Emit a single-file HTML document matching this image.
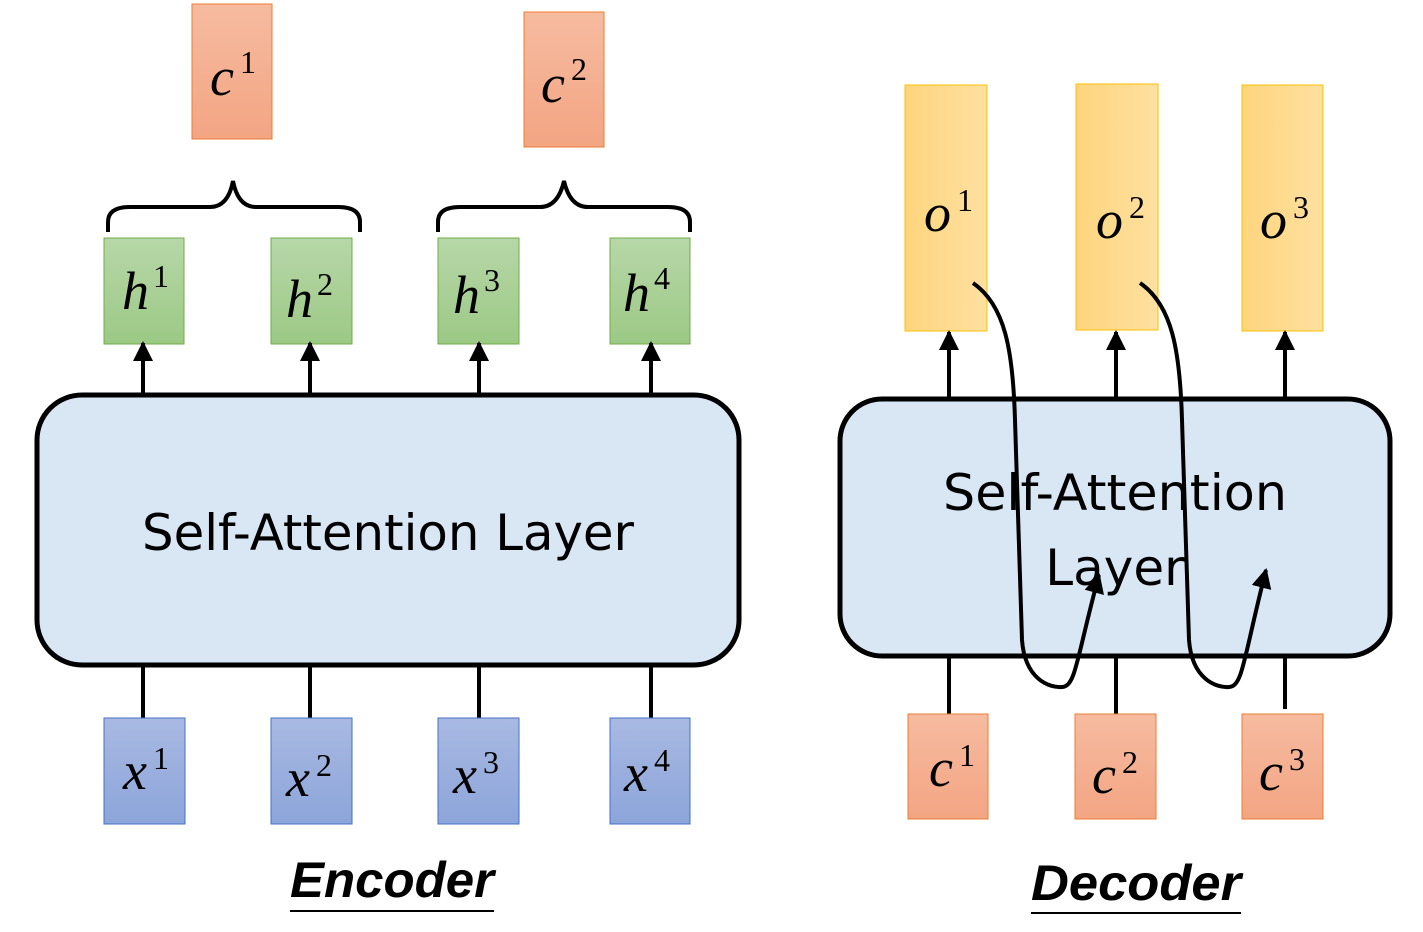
<!DOCTYPE html>
<html><head><meta charset="utf-8"><style>
html,body{margin:0;padding:0;background:#fff;}
svg{display:block}
.m{font-family:"Liberation Serif",serif;font-style:italic;font-size:54px;fill:#000}
.s{font-family:"Liberation Serif",serif;font-style:normal;font-size:32px}
.t{font-family:"DejaVu Sans","Liberation Sans",sans-serif;font-size:50px;fill:#000}
.b{font-family:"Liberation Sans",sans-serif;font-weight:bold;font-style:italic;font-size:50px;fill:#000}
</style></head><body>
<svg width="1423" height="932" viewBox="0 0 1423 932" xmlns="http://www.w3.org/2000/svg">
<defs>
<linearGradient id="g" x1="0" y1="0" x2="0" y2="1"><stop offset="0" stop-color="#b7d7a8"/><stop offset="1" stop-color="#9cc985"/></linearGradient>
<linearGradient id="bl" x1="0" y1="0" x2="0" y2="1"><stop offset="0" stop-color="#a9b9e2"/><stop offset="1" stop-color="#8ca5da"/></linearGradient>
<linearGradient id="or" x1="0" y1="0" x2="0" y2="1"><stop offset="0" stop-color="#f6bba0"/><stop offset="1" stop-color="#f3a583"/></linearGradient>
<linearGradient id="ye" x1="0" y1="0" x2="1" y2="0"><stop offset="0" stop-color="#fed57e"/><stop offset="1" stop-color="#fee0a0"/></linearGradient>
<marker id="ar" viewBox="0 0 10 10" refX="9" refY="5" markerWidth="5" markerHeight="5" orient="auto"><path d="M0,0L10,5L0,10z" fill="#000"/></marker>
</defs>

<rect x="192" y="4" width="80" height="135" fill="url(#or)" stroke="#ed7d31" stroke-width="1"/>
<text class="m" x="210" y="95">c<tspan class="s" dx="6" dy="-22">1</tspan></text>
<rect x="524" y="12" width="80" height="135" fill="url(#or)" stroke="#ed7d31" stroke-width="1"/>
<text class="m" x="541" y="102">c<tspan class="s" dx="6" dy="-22">2</tspan></text>

<path d="M108,232 V222 Q108,207 130,207 H210 Q228,207 233,181 Q238,207 256,207 H338 Q360,207 360,222 V232" fill="none" stroke="#000" stroke-width="4"/>
<path d="M438,232 V222 Q438,207 460,207 H540 Q558,207 564,181 Q570,207 588,207 H668 Q690,207 690,222 V232" fill="none" stroke="#000" stroke-width="4"/>

<rect x="104" y="238" width="80" height="106" fill="url(#g)" stroke="#70ad47"/>
<text class="m" x="122" y="309">h<tspan class="s" dx="4" dy="-22">1</tspan></text>
<rect x="271" y="238" width="81" height="106" fill="url(#g)" stroke="#70ad47"/>
<text class="m" x="286" y="317">h<tspan class="s" dx="4" dy="-22">2</tspan></text>
<rect x="438" y="238" width="81" height="106" fill="url(#g)" stroke="#70ad47"/>
<text class="m" x="453" y="313">h<tspan class="s" dx="4" dy="-22">3</tspan></text>
<rect x="610" y="238" width="80" height="106" fill="url(#g)" stroke="#70ad47"/>
<text class="m" x="623" y="311">h<tspan class="s" dx="4" dy="-22">4</tspan></text>

<g stroke="#000" stroke-width="4" marker-end="url(#ar)">
<line x1="143" y1="393" x2="143" y2="343"/><line x1="310" y1="393" x2="310" y2="343"/>
<line x1="479" y1="393" x2="479" y2="343"/><line x1="651" y1="393" x2="651" y2="343"/>
</g>
<g stroke="#000" stroke-width="4">
<line x1="143" y1="666" x2="143" y2="718"/><line x1="310" y1="666" x2="310" y2="718"/>
<line x1="479" y1="666" x2="479" y2="718"/><line x1="651" y1="666" x2="651" y2="718"/>
</g>

<rect x="37" y="395" width="702" height="270" rx="45" fill="#d9e7f5" stroke="#000" stroke-width="5"/>
<text class="t" x="388" y="550" text-anchor="middle" textLength="492" lengthAdjust="spacingAndGlyphs">Self-Attention Layer</text>

<rect x="104" y="718" width="81" height="106" fill="url(#bl)" stroke="#4472c4"/>
<text class="m" x="123" y="789">x<tspan class="s" dx="6" dy="-20">1</tspan></text>
<rect x="271" y="718" width="81" height="106" fill="url(#bl)" stroke="#4472c4"/>
<text class="m" x="286" y="796">x<tspan class="s" dx="6" dy="-20">2</tspan></text>
<rect x="438" y="718" width="81" height="106" fill="url(#bl)" stroke="#4472c4"/>
<text class="m" x="453" y="793">x<tspan class="s" dx="6" dy="-20">3</tspan></text>
<rect x="610" y="718" width="80" height="106" fill="url(#bl)" stroke="#4472c4"/>
<text class="m" x="624" y="791">x<tspan class="s" dx="6" dy="-20">4</tspan></text>

<text class="b" x="392" y="897" text-anchor="middle" textLength="204" lengthAdjust="spacingAndGlyphs">Encoder</text>
<line x1="290" y1="911" x2="494" y2="911" stroke="#000" stroke-width="2"/>

<rect x="905" y="85" width="82" height="246" fill="url(#ye)" stroke="#ffc000"/>
<text class="m" x="924" y="231">o<tspan class="s" dx="6" dy="-20">1</tspan></text>
<rect x="1076" y="84" width="82" height="246" fill="url(#ye)" stroke="#ffc000"/>
<text class="m" x="1096" y="238">o<tspan class="s" dx="6" dy="-20">2</tspan></text>
<rect x="1242" y="85" width="81" height="246" fill="url(#ye)" stroke="#ffc000"/>
<text class="m" x="1260" y="238">o<tspan class="s" dx="6" dy="-20">3</tspan></text>

<g stroke="#000" stroke-width="4" marker-end="url(#ar)">
<line x1="949" y1="398" x2="949" y2="332"/><line x1="1116" y1="398" x2="1116" y2="332"/><line x1="1285" y1="398" x2="1285" y2="332"/>
</g>
<g stroke="#000" stroke-width="4">
<line x1="949" y1="657" x2="949" y2="714"/><line x1="1116" y1="657" x2="1116" y2="714"/><line x1="1285" y1="657" x2="1285" y2="709"/>
</g>

<rect x="840" y="399" width="550" height="257" rx="42" fill="#d9e7f5" stroke="#000" stroke-width="5"/>
<text class="t" x="1115" y="510" text-anchor="middle" textLength="344" lengthAdjust="spacingAndGlyphs">Self-Attention</text>
<text class="t" x="1115" y="585" text-anchor="middle">Layer</text>

<path d="M973,283 C1005,305 1013,350 1015,420 L1022,640 C1025,680 1050,688 1062,687 C1076,686 1076,660 1099,575" fill="none" stroke="#000" stroke-width="4" marker-end="url(#ar)"/>
<path d="M1140,283 C1172,305 1180,350 1182,420 L1189,640 C1192,680 1217,688 1229,687 C1243,686 1243,660 1266,570" fill="none" stroke="#000" stroke-width="4" marker-end="url(#ar)"/>

<rect x="908" y="714" width="80" height="105" fill="url(#or)" stroke="#ed7d31"/>
<text class="m" x="929" y="786">c<tspan class="s" dx="6" dy="-20">1</tspan></text>
<rect x="1075" y="714" width="81" height="105" fill="url(#or)" stroke="#ed7d31"/>
<text class="m" x="1092" y="793">c<tspan class="s" dx="6" dy="-20">2</tspan></text>
<rect x="1242" y="714" width="81" height="105" fill="url(#or)" stroke="#ed7d31"/>
<text class="m" x="1259" y="790">c<tspan class="s" dx="6" dy="-20">3</tspan></text>

<text class="b" x="1136" y="900" text-anchor="middle" textLength="210" lengthAdjust="spacingAndGlyphs">Decoder</text>
<line x1="1031" y1="913" x2="1241" y2="913" stroke="#000" stroke-width="2"/>
</svg>
</body></html>
